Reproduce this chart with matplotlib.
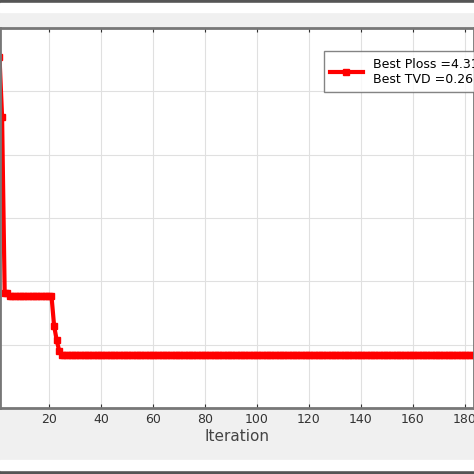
import matplotlib
matplotlib.use('Agg')
import matplotlib.pyplot as plt
from matplotlib.patches import Rectangle

# Convergence values (piecewise flat stretches)
iterations = list(range(1, 184))
fitness = ([5.55, 4.6] + [1.82] * 2 + [1.77] * 17 + [1.3, 1.07, 0.9]
           + [0.84] * (183 - 24))
iterations = iterations[:len(fitness)]
legend_text = 'Best Ploss =4.3162\nBest TVD =0.2612'

fig = plt.figure(figsize=(4.74, 4.74), dpi=100, facecolor='#f0f0f0')
# dark frame bands at top and bottom, white strip at top
fig.patches.append(Rectangle((0, 1 - 3 / 474), 1, 3 / 474, transform=fig.transFigure, color='#555555'))
fig.patches.append(Rectangle((0, 1 - 12 / 474), 1, 9 / 474, transform=fig.transFigure, color='white'))
fig.patches.append(Rectangle((0, 0), 1, 4 / 474, transform=fig.transFigure, color='#555555'))
fig.patches.append(Rectangle((0, 4 / 474), 1, 10 / 474, transform=fig.transFigure, color='white'))

ax = fig.add_axes([0, 66 / 474, 1, 380 / 474])
ax.plot(iterations, fitness, color='red', lw=3, marker='s', ms=5)
ax.set_xlim(1.2, 183.5)
ax.set_ylim(0, 6)
ax.set_xticks(range(20, 181, 20))
ax.set_yticks(range(0, 7))
ax.set_yticklabels([])
ax.grid(True, color='#e0e0e0', lw=0.8)
ax.tick_params(axis='x', direction='in', length=3, labelsize=9, colors='#333333', top=True)
ax.tick_params(axis='y', length=0)
for s in ax.spines.values():
    s.set_color('#777777')
    s.set_linewidth(2)
ax.set_xlabel('Iteration', fontsize=11, color='#444444', labelpad=2)

ax.legend([legend_text], loc='upper left', bbox_to_anchor=(0.67, 0.955),
          fontsize=9, frameon=True, fancybox=False, edgecolor='#666666',
          handlelength=2.6, borderpad=0.5, labelspacing=0.2)
ax.get_legend().get_lines()[0].set_linewidth(3)

fig.savefig('out.png', dpi=100, facecolor=fig.get_facecolor())
